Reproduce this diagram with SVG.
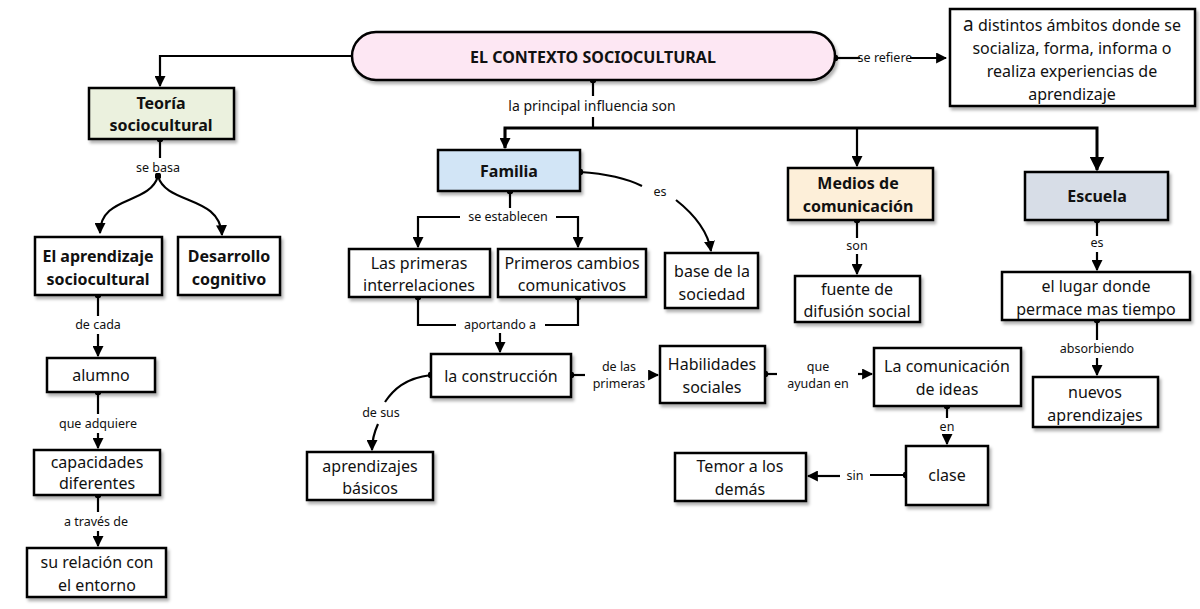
<svg xmlns="http://www.w3.org/2000/svg" width="1200" height="609" viewBox="0 0 1200 609">
<defs>
<filter id="sh" x="-10%" y="-10%" width="130%" height="130%"><feDropShadow dx="2" dy="3" stdDeviation="1.5" flood-color="#000" flood-opacity="0.3"/></filter>
<marker id="ar" viewBox="0 0 10 10" refX="9" refY="5" markerWidth="5" markerHeight="5" orient="auto"><path d="M0,0L10,5L0,10z" fill="#000"/></marker>
<marker id="dt" viewBox="0 0 10 10" refX="5" refY="5" markerWidth="3" markerHeight="3"><circle cx="5" cy="5" r="5" fill="#000"/></marker>
</defs>
<style>
.b{fill:#fff;stroke:#000;stroke-width:2.5;filter:url(#sh)}
.t{font-family:"Noto Sans","Open Sans",sans-serif;font-size:16px;text-anchor:middle;fill:#111}
.bt{font-weight:bold}
.l{font-family:"Noto Sans","Open Sans",sans-serif;font-size:12.5px;text-anchor:middle;fill:#111}
.c{fill:none;stroke:#000;stroke-width:2.2}
.k{stroke-width:3}
</style>
<rect width="1200" height="609" fill="#fff"/>
<g id="connectors">
<path class="c" d="M352,56H160V86" marker-end="url(#ar)"/>
<path class="c" d="M835,58H860" marker-start="url(#dt)"/>
<path class="c" d="M910,58H946" marker-end="url(#ar)"/>
<path class="c" d="M160,139V158" marker-start="url(#dt)"/>
<path class="c" d="M158,176C150,205 100,195 100,233" marker-start="url(#dt)" marker-end="url(#ar)"/>
<path class="c" d="M158,176C166,205 220,195 222,235" marker-end="url(#ar)"/>
<path class="c" d="M98,295V316" marker-start="url(#dt)"/>
<path class="c" d="M98,334V356" marker-end="url(#ar)"/>
<path class="c" d="M98,392V414" marker-start="url(#dt)"/>
<path class="c" d="M98,433V448" marker-end="url(#ar)"/>
<path class="c" d="M98,495V512" marker-start="url(#dt)"/>
<path class="c" d="M98,531V546" marker-end="url(#ar)"/>
<path class="c" d="M593,80V96" marker-start="url(#dt)"/>
<path class="c" d="M593,117V128"/>
<path class="c k" d="M505,148V128H1097V170" marker-end="url(#ar)"/>
<path class="c" d="M857,128V166" marker-end="url(#ar)"/>
<path class="c" d="M505,128V148" marker-end="url(#ar)"/>
<path class="c" d="M510,191V208" marker-start="url(#dt)"/>
<path class="c" d="M460,217H418V247" marker-end="url(#ar)"/>
<path class="c" d="M556,217H578V247" marker-end="url(#ar)"/>
<path class="c" d="M580,172C610,174 630,180 642,186" marker-start="url(#dt)"/>
<path class="c" d="M676,200C695,215 708,232 711,251" marker-end="url(#ar)"/>
<path class="c" d="M857,220V238" marker-start="url(#dt)"/>
<path class="c" d="M857,254V274" marker-end="url(#ar)"/>
<path class="c" d="M1097,220V236" marker-start="url(#dt)"/>
<path class="c" d="M1097,252V270" marker-end="url(#ar)"/>
<path class="c" d="M1097,320V340" marker-start="url(#dt)"/>
<path class="c" d="M1097,358V375" marker-end="url(#ar)"/>
<path class="c" d="M418,297V325H456" marker-start="url(#dt)"/>
<path class="c" d="M545,325H578V297" marker-end="url(#dt)"/>
<path class="c" d="M500,333V352" marker-end="url(#ar)"/>
<path class="c" d="M431,375C405,378 393,390 385,402" marker-start="url(#dt)"/>
<path class="c" d="M378,424C373,435 372,442 372,450" marker-end="url(#ar)"/>
<path class="c" d="M571,375H585" marker-start="url(#dt)"/>
<path class="c" d="M652,375H658" marker-end="url(#ar)"/>
<path class="c" d="M765,374H777" marker-start="url(#dt)"/>
<path class="c" d="M858,374H872" marker-end="url(#ar)"/>
<path class="c" d="M947,406V418" marker-start="url(#dt)"/>
<path class="c" d="M947,436V444" marker-end="url(#ar)"/>
<path class="c" d="M906,475H870" marker-start="url(#dt)"/>
<path class="c" d="M840,476H808" marker-end="url(#ar)"/>
</g>
<g class="l">
<text x="885" y="62">se refiere</text>
<text x="158" y="172">se basa</text>
<text x="98" y="329">de cada</text>
<text x="98" y="428">que adquiere</text>
<text x="96" y="526">a través de</text>
<text x="592" y="111" font-size="14">la principal influencia son</text>
<text x="508" y="221">se establecen</text>
<text x="660" y="196">es</text>
<text x="857" y="250">son</text>
<text x="1097" y="247">es</text>
<text x="1097" y="353">absorbiendo</text>
<text x="500" y="329">aportando a</text>
<text x="381" y="417">de sus</text>
<text x="619" y="371">de las</text>
<text x="619" y="388">primeras</text>
<text x="818" y="371">que</text>
<text x="818" y="388">ayudan en</text>
<text x="947" y="431">en</text>
<text x="855" y="480">sin</text>
</g>
<g id="main"><rect x="352" y="32" width="483" height="48" rx="24" fill="#fde7f3" stroke="#000" stroke-width="2.5" filter="url(#sh)"/><text class="t bt" x="593" y="63">EL CONTEXTO SOCIOCULTURAL</text></g>
<g id="refiere"><rect class="b" x="950" y="9" width="245" height="97"/><text class="t" x="1072" y="31"><tspan font-size="19">a</tspan> distintos ámbitos donde se</text><text class="t" x="1072" y="54">socializa, forma, informa o</text><text class="t" x="1072" y="77">realiza experiencias de</text><text class="t" x="1072" y="100">aprendizaje</text></g>
<g id="teoria"><rect class="b" x="89" y="88" width="145" height="51" style="fill:#ebf1de"/><text class="t bt" x="161" y="109">Teoría</text><text class="t bt" x="161" y="131">sociocultural</text></g>
<g id="aprendizaje"><rect class="b" x="35" y="237" width="127" height="58"/><text class="t bt" x="98" y="262">El aprendizaje</text><text class="t bt" x="98" y="285">sociocultural</text></g>
<g id="desarrollo"><rect class="b" x="178" y="237" width="102" height="58"/><text class="t bt" x="229" y="262">Desarrollo</text><text class="t bt" x="229" y="285">cognitivo</text></g>
<g id="alumno"><rect class="b" x="47" y="358" width="108" height="34"/><text class="t" x="101" y="381">alumno</text></g>
<g id="capacidades"><rect class="b" x="34" y="450" width="126" height="45"/><text class="t" x="97" y="468">capacidades</text><text class="t" x="97" y="489">diferentes</text></g>
<g id="relacion"><rect class="b" x="27" y="548" width="139" height="49"/><text class="t" x="97" y="568">su relación con</text><text class="t" x="97" y="591">el entorno</text></g>
<g id="familia"><rect class="b" x="438" y="150" width="142" height="41" style="fill:#d2e5f6"/><text class="t bt" x="509" y="177">Familia</text></g>
<g id="medios"><rect class="b" x="788" y="168" width="145" height="52" style="fill:#fdefd9"/><text class="t bt" x="858" y="189">Medios de</text><text class="t bt" x="858" y="212">comunicación</text></g>
<g id="escuela"><rect class="b" x="1025" y="172" width="143" height="48" style="fill:#d7dde7"/><text class="t bt" x="1097" y="202">Escuela</text></g>
<g id="primeras"><rect class="b" x="349" y="249" width="141" height="48"/><text class="t" x="419" y="269">Las primeras</text><text class="t" x="419" y="291">interrelaciones</text></g>
<g id="cambios"><rect class="b" x="498" y="249" width="148" height="48"/><text class="t" x="572" y="269">Primeros cambios</text><text class="t" x="572" y="291">comunicativos</text></g>
<g id="base"><rect class="b" x="665" y="253" width="93" height="55"/><text class="t" x="712" y="277">base de la</text><text class="t" x="712" y="300">sociedad</text></g>
<g id="fuente"><rect class="b" x="795" y="276" width="125" height="46"/><text class="t" x="857" y="295">fuente de</text><text class="t" x="857" y="317">difusión social</text></g>
<g id="lugar"><rect class="b" x="1002" y="272" width="188" height="48"/><text class="t" x="1096" y="292">el lugar donde</text><text class="t" x="1096" y="315">permace mas tiempo</text></g>
<g id="nuevos"><rect class="b" x="1033" y="377" width="125" height="50"/><text class="t" x="1095" y="398">nuevos</text><text class="t" x="1095" y="421">aprendizajes</text></g>
<g id="construccion"><rect class="b" x="431" y="354" width="140" height="43"/><text class="t" x="501" y="382">la construcción</text></g>
<g id="basicos"><rect class="b" x="307" y="452" width="126" height="48"/><text class="t" x="370" y="472">aprendizajes</text><text class="t" x="370" y="494">básicos</text></g>
<g id="habilidades"><rect class="b" x="660" y="346" width="105" height="57"/><text class="t" x="712" y="370">Habilidades</text><text class="t" x="712" y="393">sociales</text></g>
<g id="comunicacion"><rect class="b" x="874" y="348" width="147" height="58"/><text class="t" x="947" y="372">La comunicación</text><text class="t" x="947" y="395">de ideas</text></g>
<g id="clase"><rect class="b" x="906" y="446" width="82" height="59"/><text class="t" x="947" y="481">clase</text></g>
<g id="temor"><rect class="b" x="675" y="453" width="131" height="48"/><text class="t" x="740" y="472">Temor a los</text><text class="t" x="740" y="495">demás</text></g>
</svg>
